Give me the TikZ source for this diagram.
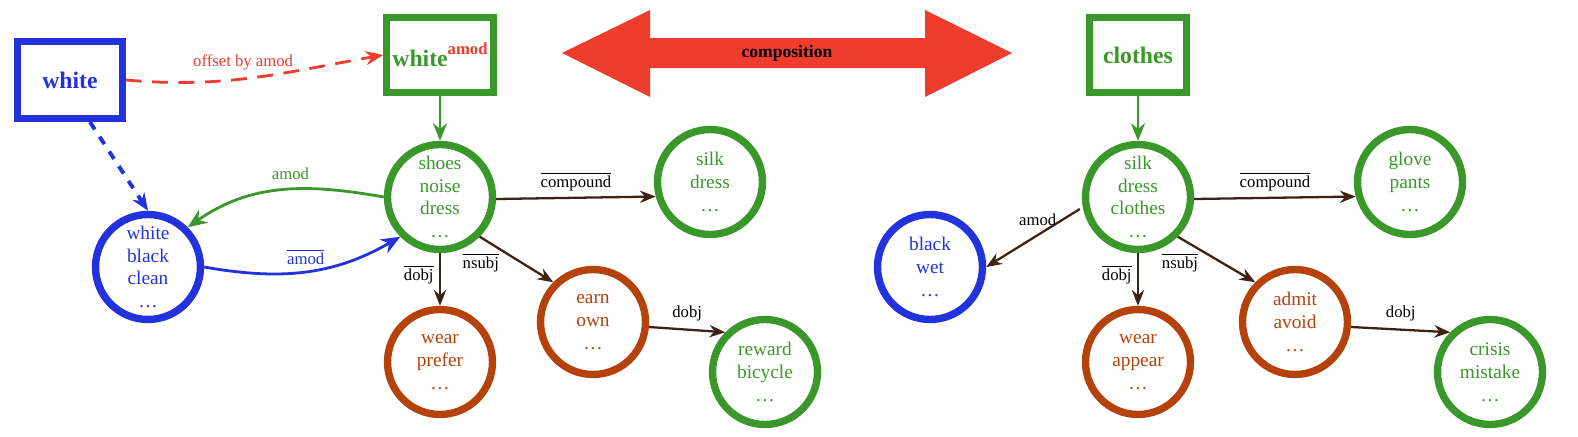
\documentclass[tikz,border=0pt]{standalone}
\usepackage{fontspec}
\setmainfont{Liberation Serif}
\usetikzlibrary{arrows.meta}
\definecolor{gr}{RGB}{58,152,42}
\definecolor{bl}{RGB}{34,51,221}
\definecolor{br}{RGB}{181,66,11}
\definecolor{rd}{RGB}{240,60,45}
\definecolor{dk}{RGB}{61,35,20}
\begin{document}
\begin{tikzpicture}[x=0.02cm,y=-0.02cm,
  circ/.style={circle,draw=#1,text=#1,line width=4.2pt,minimum size=2.1cm,inner sep=0pt,align=center,font=\fontsize{11}{13}\selectfont},
  box/.style={draw=#1,text=#1,line width=3.8pt,minimum width=1.95cm,minimum height=1.5cm,font=\bfseries\fontsize{13.5}{15}\selectfont},
  dep/.style={draw=dk,line width=1.3pt,-{Stealth[length=9pt,width=7pt]}},
  lab/.style={font=\fontsize{9.5}{10}\selectfont,inner sep=1pt}]
\useasboundingbox (0,0) rectangle (1578,436);
% boxes
\node[box=bl,minimum width=2.1cm,minimum height=1.55cm] (w) at (70,80) {white};
\node[box=gr] (wa) at (440,55) {white\raisebox{1.1ex}{\textcolor{rd}{\fontsize{9.5}{10}\selectfont amod}}};
\node[box=gr] (cl) at (1138,55) {clothes};
% double arrow
\fill[rd] (562,53) -- (650,10) -- (650,38) -- (925,38) -- (925,10) -- (1012,53) -- (925,97) -- (925,68) -- (650,68) -- (650,97) -- cycle;
\node[font=\bfseries\fontsize{10}{11}\selectfont] (comp) at (787,53) {composition};
% left circles
\node[circ=gr] (s) at (440,197) {shoes\\noise\\dress\\\dots};
\node[circ=bl] (wb) at (148,267) {white\\black\\clean\\\dots};
\node[circ=gr] (sd) at (710,182) {silk\\dress\\\dots};
\node[circ=br] (eo) at (593,322) {earn\\own\\\dots};
\node[circ=br] (wp) at (440,362) {wear\\prefer\\\dots};
\node[circ=gr] (rb) at (765,372) {reward\\bicycle\\\dots};
% right circles
\node[circ=gr] (sc) at (1138,197) {silk\\dress\\clothes\\\dots};
\node[circ=bl] (bw) at (930,267) {black\\wet\\\dots};
\node[circ=gr] (gp) at (1410,182) {glove\\pants\\\dots};
\node[circ=br] (aa) at (1295,322) {admit\\avoid\\\dots};
\node[circ=br] (wa2) at (1138,362) {wear\\appear\\\dots};
\node[circ=gr] (cm) at (1490,372) {crisis\\mistake\\\dots};
% connectors left
\draw[rd,line width=1.6pt,dash pattern=on 9pt off 6pt,-{Stealth[length=10pt,width=8pt]}] (w.east) to[out=-5,in=190] node[lab,text=rd,above=3pt,pos=0.45]{offset by amod} (wa.west);
\draw[bl,line width=2.2pt,dash pattern=on 5pt off 5pt,-{Stealth[length=10pt,width=8pt]}] (w.south) ++(20,0) coordinate (w1) -- (wb.north);
\draw[gr,line width=1.6pt,-{Stealth[length=10pt,width=8pt]}] (wa.south) -- (s.north);
\draw[gr,line width=1.6pt,-{Stealth[length=11pt,width=9pt]}] (s.west) to[out=170,in=35] node[lab,text=gr,above=4pt,pos=0.45]{amod} (wb.north east);
\draw[bl,line width=1.6pt,-{Stealth[length=11pt,width=9pt]}] (wb.east) to[out=-10,in=210] node[lab,text=bl,above=2pt,pos=0.5]{$\overline{\hbox{amod}}$} (s.south west);
\draw[dep] (s.east) ++(0,2) coordinate (s1) -- node[lab,above=2pt]{$\overline{\hbox{compound}}$} (sd.195);
\draw[dep] (s.south east) -- node[lab,anchor=north east,pos=0.3]{$\overline{\hbox{nsubj}}$} (eo.north west);
\draw[dep] (s.south) -- node[lab,left=2pt,pos=0.4]{$\overline{\hbox{dobj}}$} (wp.north);
\draw[dep] (eo.east) ++(0,5) coordinate (e1) -- node[lab,above=3pt,pos=0.5]{dobj} (rb.north west);
% connectors right
\draw[gr,line width=1.6pt,-{Stealth[length=10pt,width=8pt]}] (cl.south) -- (sc.north);
\draw[dep] (sc.west) ++(-2,12) coordinate (c1) -- node[lab,above=4pt,pos=0.45]{amod} (bw.east);
\draw[dep] (sc.east) ++(0,2) coordinate (c2) -- node[lab,above=2pt]{$\overline{\hbox{compound}}$} (gp.195);
\draw[dep] (sc.south east) -- node[lab,anchor=north east,pos=0.3]{$\overline{\hbox{nsubj}}$} (aa.north west);
\draw[dep] (sc.south) -- node[lab,left=2pt,pos=0.4]{$\overline{\hbox{dobj}}$} (wa2.north);
\draw[dep] (aa.east) ++(0,5) coordinate (a1) -- node[lab,above=3pt,pos=0.5]{dobj} (cm.north west);
\end{tikzpicture}
\end{document}
